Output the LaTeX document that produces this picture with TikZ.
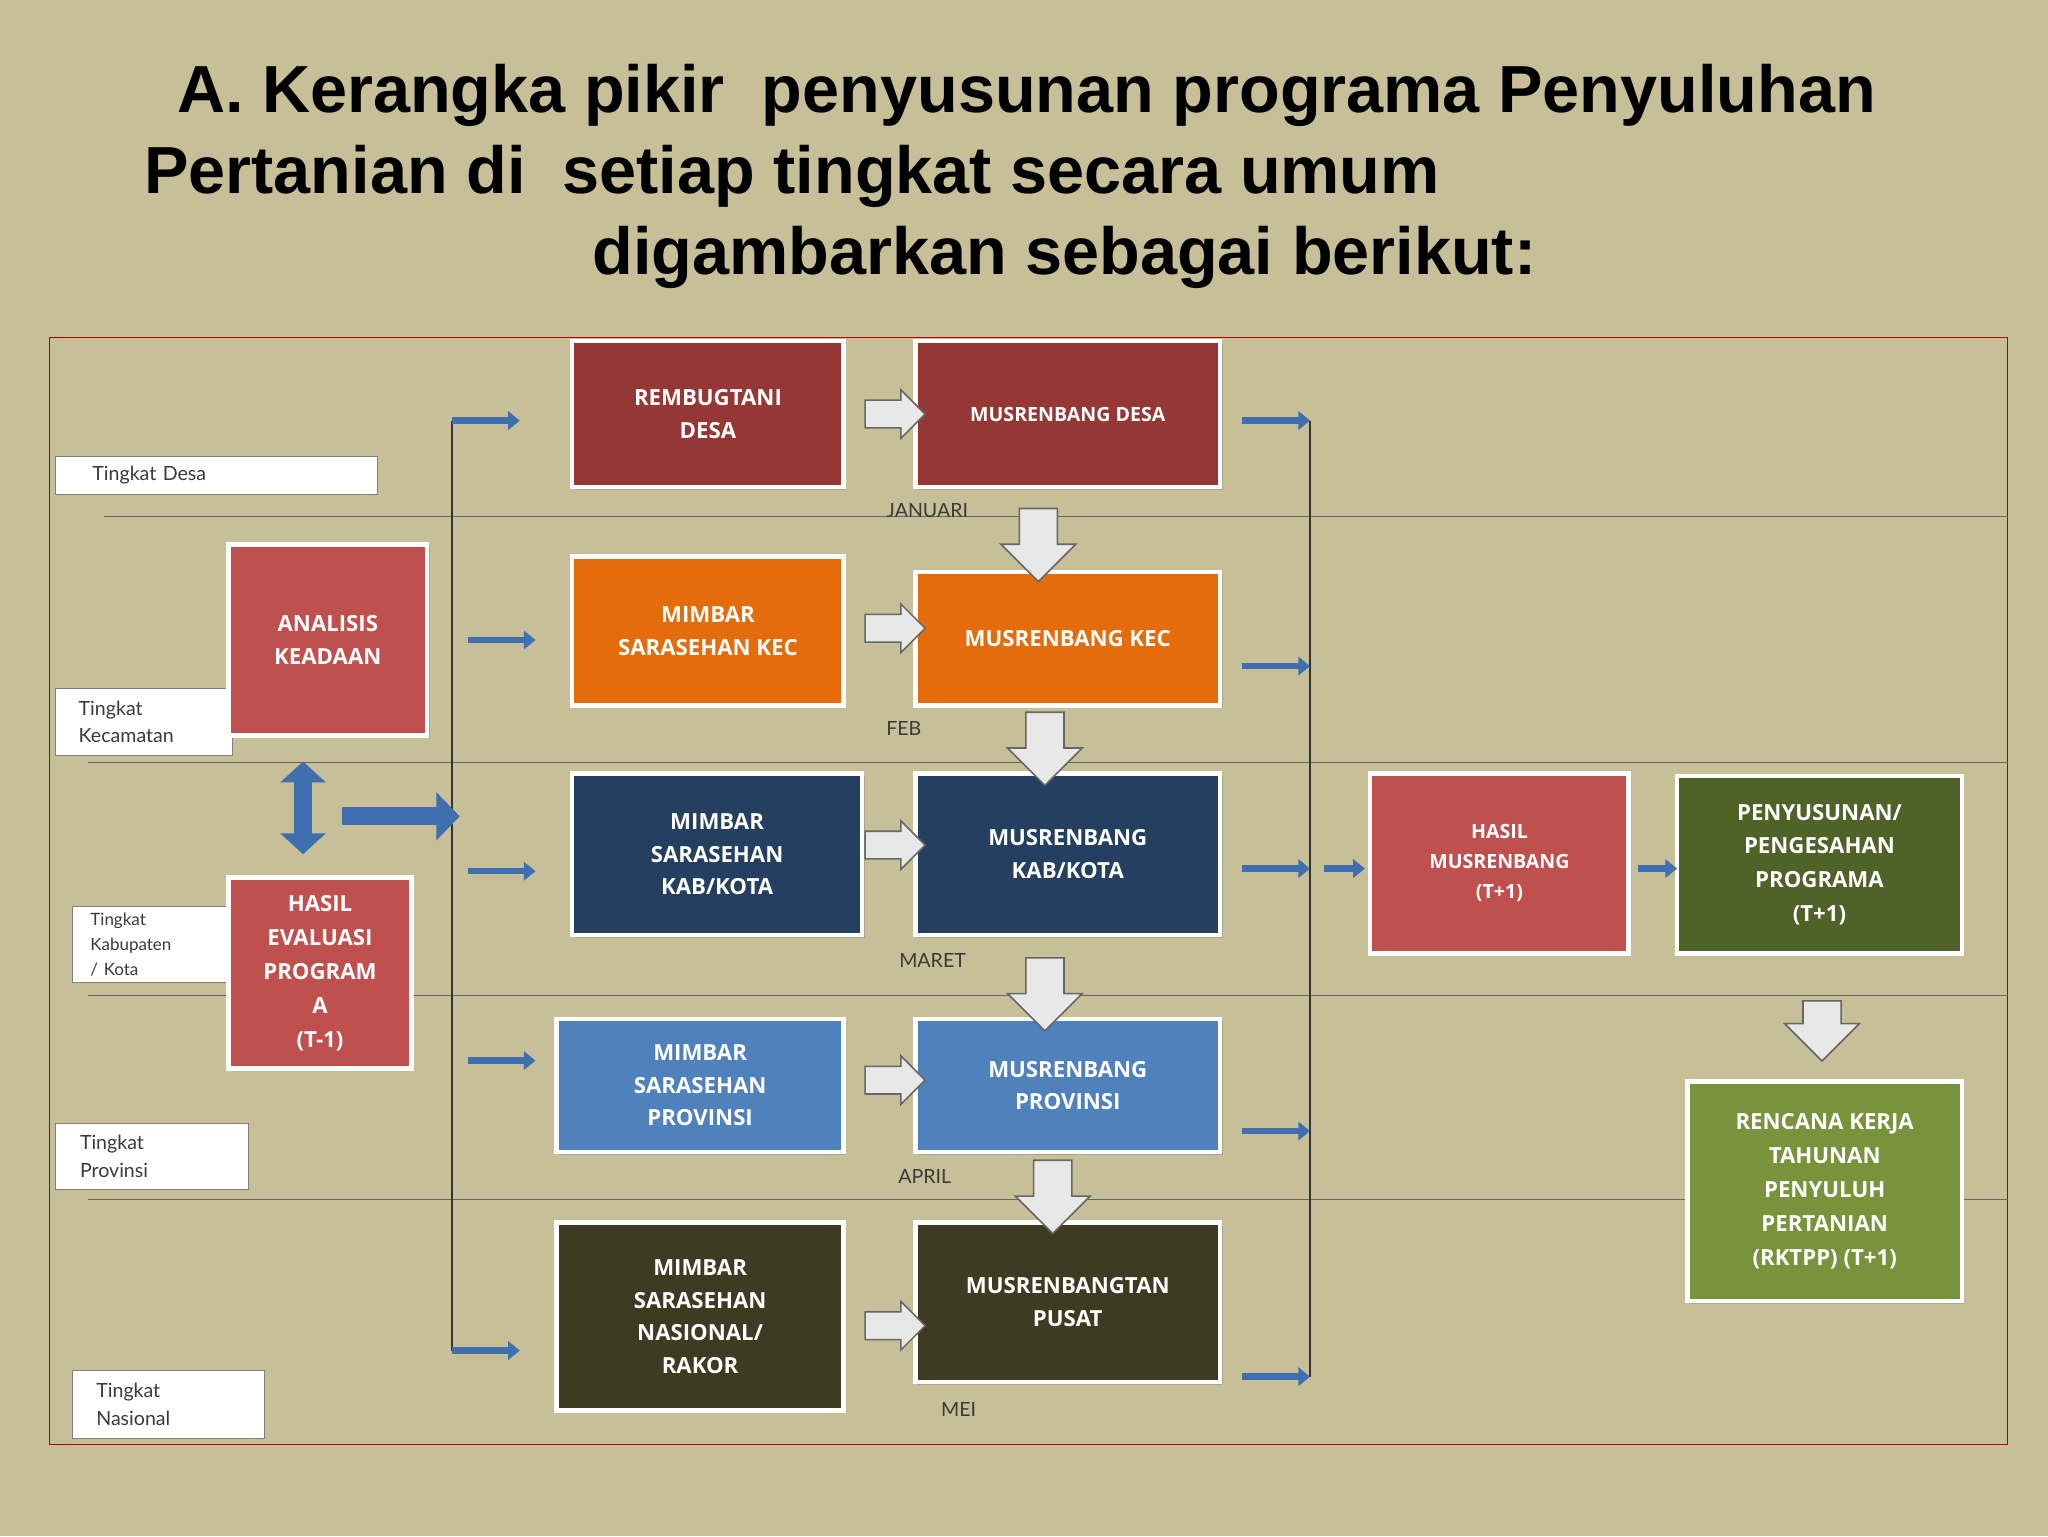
\documentclass[tikz,border=0pt]{standalone}
\usepackage{fontspec}
\setmainfont{Lato}
\newfontfamily\boxfont{Open Sans}
\newfontfamily\titlefont{Liberation Sans}
\usetikzlibrary{shapes.arrows,arrows.meta,shadows}
\definecolor{bg}{HTML}{C6BF97}
\definecolor{cdred}{HTML}{953735}
\definecolor{cred}{HTML}{C0504D}
\definecolor{corange}{HTML}{E46C0A}
\definecolor{cnavy}{HTML}{243F60}
\definecolor{cblue}{HTML}{4F81BD}
\definecolor{cdolive}{HTML}{3F3B22}
\definecolor{cgreen}{HTML}{4F6228}
\definecolor{clgreen}{HTML}{77933C}
\definecolor{carrow}{HTML}{3F6FAE}
\definecolor{ctext}{HTML}{3A3A3A}
\tikzset{
 box/.style={draw=white,line width=3.5pt,text=white,font=\boxfont\bfseries\fontsize{17}{25}\selectfont,align=center,inner sep=2pt,drop shadow={shadow xshift=2pt,shadow yshift=-2pt,opacity=.4}},
 lvl/.style={draw=gray,line width=.5pt,fill=white,text=ctext,font=\fontsize{15}{21}\selectfont,align=left,anchor=north west,inner xsep=0pt},
 month/.style={text=ctext,font=\fontsize{15}{17}\selectfont},
 harrow/.style={single arrow,draw=gray!80!black,fill=gray!18,line width=1.2pt,minimum height=46pt,inner sep=10pt,single arrow head extend=8pt},
 varrow/.style={single arrow,shape border rotate=270,draw=gray!80!black,fill=gray!18,line width=1.2pt,minimum height=56pt,inner sep=14pt,single arrow head extend=14pt},
 barrow/.style={draw=carrow,line width=5pt,-{Triangle[length=9pt,width=14pt]}},
 grid/.style={draw=gray!80!black,line width=.6pt},
 ttl/.style={anchor=base west,font=\titlefont\bfseries\fontsize{51}{55}\selectfont},
}
\begin{document}
\begin{tikzpicture}[x=1pt,y=-1pt]
\fill[bg] (0,0) rectangle (1568,1176);
\useasboundingbox (0,0) rectangle (1568,1176);
\node[ttl] (t1) at (132,86) {A. Kerangka pikir\ \ penyusunan programa Penyuluhan};
\node[ttl] (t2) at (107,148) {Pertanian di\ \ setiap tingkat secara umum};
\node[ttl] (t3) at (450,210) {digambarkan sebagai berikut:};
\draw[red!70!black,line width=.6pt] (38,258) rectangle (1537,1106);
\draw[grid] (80,395) -- (1537,395);
\draw[grid] (67,584) -- (1537,584);
\draw[grid] (67,762) -- (1537,762);
\draw[grid] (67,918) -- (1537,918);
% level labels
\node[lvl,minimum width=247pt,minimum height=29pt,inner xsep=28pt,text width=190pt] (l1) at (42,349) {Tingkat Desa};
\node[lvl,minimum width=136pt,minimum height=51pt,inner xsep=16pt,text width=100pt] (l2) at (42,527) {Tingkat\\Kecamatan};
\node[lvl,minimum width=112pt,minimum height=58pt,inner xsep=14pt,text width=90pt,font=\fontsize{13}{19}\selectfont] (l3) at (55,694) {Tingkat\\Kabupaten\\/ Kota};
\node[lvl,minimum width=148pt,minimum height=50pt,inner xsep=16pt,text width=110pt] (l4) at (42,860) {Tingkat\\Provinsi};
\node[lvl,minimum width=147pt,minimum height=52pt,inner xsep=14pt,text width=110pt] (l5) at (55,1049) {Tingkat\\Nasional};
% boxes
\node[box,fill=cdred,minimum width=208pt,minimum height=112pt] (rd) at (542,317) {REMBUGTANI\\DESA};
\node[box,fill=cdred,minimum width=233pt,minimum height=112pt,font=\boxfont\bfseries\fontsize{15}{22}\selectfont] (md) at (817.5,317) {MUSRENBANG DESA};
\node[box,fill=cred,minimum width=152pt,minimum height=146pt] (ak) at (251,490) {ANALISIS\\KEADAAN};
\node[box,fill=corange,minimum width=208pt,minimum height=114pt] (msk) at (542,483) {MIMBAR\\SARASEHAN KEC};
\node[box,fill=corange,minimum width=233pt,minimum height=102pt] (mk) at (817.5,489) {MUSRENBANG KEC};
\node[box,fill=cnavy,minimum width=222pt,minimum height=124pt] (msb) at (549,654) {MIMBAR\\SARASEHAN\\KAB/KOTA};
\node[box,fill=cnavy,minimum width=233pt,minimum height=124pt] (mb) at (817.5,654) {MUSRENBANG\\KAB/KOTA};
\node[box,fill=cred,minimum width=140pt,minimum height=146pt,font=\boxfont\bfseries\fontsize{17}{26}\selectfont] (he) at (245,745) {HASIL\\EVALUASI\\PROGRAM\\A\\(T-1)};
\node[box,fill=cblue,minimum width=220pt,minimum height=102pt] (msp) at (536,831) {MIMBAR\\SARASEHAN\\PROVINSI};
\node[box,fill=cblue,minimum width=233pt,minimum height=102pt] (mp) at (817.5,831) {MUSRENBANG\\PROVINSI};
\node[box,fill=cdolive,minimum width=220pt,minimum height=144pt] (msn) at (536,1008) {MIMBAR\\SARASEHAN\\NASIONAL/\\RAKOR};
\node[box,fill=cdolive,minimum width=233pt,minimum height=122pt] (mpu) at (817.5,997) {MUSRENBANGTAN\\PUSAT};
\node[box,fill=cred,minimum width=198pt,minimum height=138pt,font=\boxfont\bfseries\fontsize{15}{23}\selectfont] (hm) at (1148,661) {HASIL\\MUSRENBANG\\(T+1)};
\node[box,fill=cgreen,minimum width=218pt,minimum height=136pt,font=\boxfont\bfseries\fontsize{17}{26}\selectfont] (pp) at (1393,662) {PENYUSUNAN/\\PENGESAHAN\\PROGRAMA\\(T+1)};
\node[box,fill=clgreen,minimum width=210pt,minimum height=168pt,font=\boxfont\bfseries\fontsize{17}{26}\selectfont] (rk) at (1397,912) {RENCANA KERJA\\TAHUNAN\\PENYULUH\\PERTANIAN\\(RKTPP) (T+1)};
% months
\node[month] (m1) at (710,391) {JANUARI};
\node[month] (m2) at (692,558) {FEB};
\node[month] (m3) at (714,735) {MARET};
\node[month] (m4) at (708,901) {APRIL};
\node[month] (m5) at (734,1079) {MEI};
% gray arrows
\node[harrow] (h1) at (680,317) {};
\node[harrow] (h2) at (680,481) {};
\node[harrow] (h3) at (680,647) {};
\node[harrow] (h4) at (680,827) {};
\node[harrow] (h5) at (680,1015) {};
\node[varrow] (v1) at (795,410) {};
\node[varrow] (v2) at (800,566) {};
\node[varrow] (v3) at (800,754) {};
\node[varrow] (v4) at (806,909) {};
\node[varrow,minimum height=46pt] (v5) at (1395,782) {};
% left vertical line and arrows
\coordinate (lt) at (346,322); \coordinate (lb) at (346,1034);
\draw[gray!40!black,line width=1.2pt] (lt) -- (lb);
\draw[barrow] (lt) -- (398,322);
\draw[barrow] (358,490) -- (410,490);
\draw[barrow] (358,667) -- (410,667);
\draw[barrow] (358,812) -- (410,812);
\draw[barrow] (lb) -- (398,1034);
\draw[draw=carrow,line width=14pt,-{Triangle[length=18pt,width=36pt]}] (262,625) -- (352,625);
\draw[draw=carrow,line width=14pt,{Triangle[length=16pt,width=34pt]}-{Triangle[length=16pt,width=34pt]}] (232,583) -- (232,654);
% right vertical line and arrows
\coordinate (rt) at (1003,322); \coordinate (rb) at (1003,1054);
\draw[gray!40!black,line width=1.2pt] (rt) -- (rb);
\draw[barrow] (951,322) -- (rt);
\draw[barrow] (951,510) -- (1003,510);
\draw[barrow] (951,665) -- (1003,665);
\draw[barrow] (951,866) -- (1003,866);
\draw[barrow] (951,1054) -- (rb);
\draw[barrow] (1014,665) -- (1045,665);
\draw[barrow] (1254,665) -- (1284,665);
\end{tikzpicture}
\end{document}
